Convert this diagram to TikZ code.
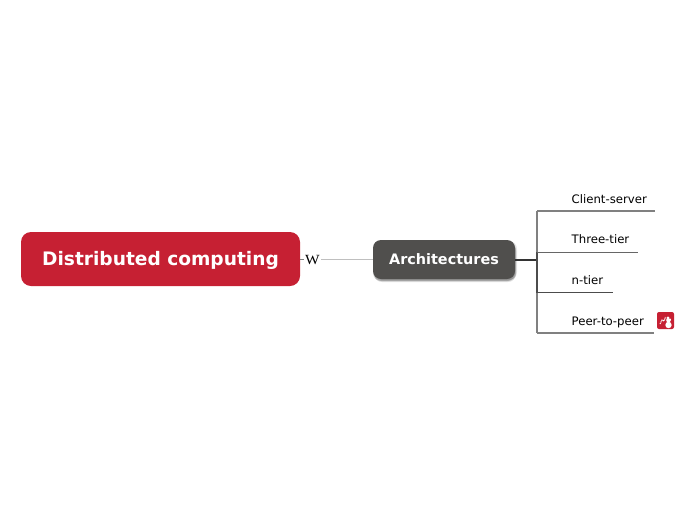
\documentclass[tikz,border=0pt]{standalone}
\usepackage{fontspec}
\setmainfont{DejaVu Sans}
\newfontfamily\wikifont{Liberation Serif}
\usetikzlibrary{shadows}
\definecolor{rootred}{HTML}{C62033}
\definecolor{archgrey}{HTML}{504F4D}
\tikzset{
    rootbox/.style={fill=rootred, rounded corners=10pt, minimum width=279pt, minimum height=54pt, text height=13pt, text depth=0pt, text=white, font=\bfseries\fontsize{18.6}{22}\selectfont},
    softshade/.style={general shadow={shadow xshift=#1, shadow yshift=-2pt, fill=black, opacity=0.14}},
    archbox/.style={fill=archgrey, rounded corners=8pt, minimum width=142pt, minimum height=39pt, text height=10.4pt, text depth=0pt, text=white, font=\bfseries\fontsize{14.4}{17}\selectfont, softshade=0pt, softshade=1pt, general shadow={shadow xshift=1pt, shadow yshift=-3pt, fill=black, opacity=0.12}, general shadow={shadow xshift=2pt, shadow yshift=-1pt, fill=black, opacity=0.1}},
    wikibox/.style={fill=white, inner sep=0pt, minimum width=17pt, minimum height=12pt, text height=9.6pt, text depth=0pt, font=\wikifont\fontsize{14}{14}\selectfont},
    leaftext/.style={anchor=base west, inner sep=0pt, font=\fontsize{11.7}{14}\selectfont, text=black},
    leafline/.style={line width=1.1pt},
}
\begin{document}
\begin{tikzpicture}[x=1pt,y=-1pt]
        \useasboundingbox (0,0) rectangle (696,520);

        % Main boxes
        \node[rootbox] (root) at (160.5,259) {Distributed computing};
        \node[archbox] (arch) at (444,259.5) {Architectures};
        \node[wikibox] (wiki) at (312.5,259.5) {\scalebox{1.1}[1]{W}};

        % Link between the boxes
        \draw[line width=1.2pt, black!50] (root.east |- wiki) -- (wiki);
        \draw[line width=1.5pt, black!25] (wiki) -- (arch);

        % Leaf labels
        \node[leaftext] (client) at (571.5,203) {Client-server};
        \node[leaftext] (three) at (571.5,243.5) {Three-tier};
        \node[leaftext] (ntier) at (571.5,284.5) {n-tier};
        \node[leaftext] (peer) at (571.5,325) {Peer-to-peer};

        % Branch points and line ends
        \coordinate (hub) at (537,260);
        \coordinate (top) at (537,211);
        \coordinate (topend) at (655,211);
        \coordinate (threeL) at (537,252);
        \coordinate (threeend) at (638,252);
        \coordinate (ntierL) at (537,292.5);
        \coordinate (ntierend) at (613,292.5);
        \coordinate (bot) at (537,333);
        \coordinate (botend) at (654,333);

        % Branches
        \draw[line width=1.5pt, black!80] (arch.east |- hub) -- (hub);
        \draw[leafline, black!50] (top) -- (threeL);
        \draw[leafline, black!70] (threeL) -- (ntierL);
        \draw[leafline, black!50] (ntierL) -- (bot);
        \draw[leafline, black!50] (top) -- (topend);
        \draw[line width=1pt, black!60] (threeL) -- (threeend);
        \draw[line width=1pt, black!70] (ntierL) -- (ntierend);
        \draw[leafline, black!50] (bot) -- (botend);

        % Icon beside the last leaf
        \fill[rootred, rounded corners=2pt] (657,312) rectangle (674,329);
        \fill[white] (668.5,325) circle (3.2pt);
        \fill[white] (668,318) circle (1.6pt);
        \fill[white] (666,319.5) -- (670.5,318.5) -- (671,320) -- (669.5,322.5) -- (667,322.5) -- cycle;
        \draw[white, line width=1pt, dash pattern=on 1.2pt off 0.6pt] (660,324) -- (662,320) -- (664,321) -- (665.5,317);
\end{tikzpicture}
\end{document}
